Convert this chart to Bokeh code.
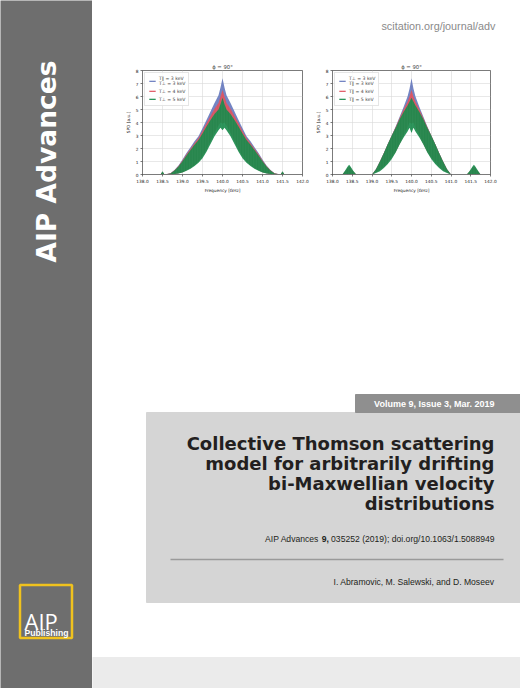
import math
from bokeh.plotting import figure
from bokeh.models import Range1d, FixedTicker, NumeralTickFormatter, Label, Legend, LegendItem, Spacer
from bokeh.layouts import row, column
from bokeh.core.properties import value
from bokeh.embed import file_html
from bokeh.resources import INLINE

# ---------------- data ----------------
X_TICKS = [138.0, 138.5, 139.0, 139.5, 140.0, 140.5, 141.0, 141.5, 142.0]
Y_TICKS = [0, 1, 2, 3, 4, 5, 6, 7, 8]

# left panel: T_par = 3 keV fixed, T_perp = 3, 4, 5 keV
FREQ_L = [138.0, 138.45, 138.5, 138.55,
          138.7, 138.8, 138.9, 139.0, 139.1, 139.2, 139.3, 139.4, 139.5, 139.6, 139.7, 139.8, 139.9,
          139.95, 140.0, 140.05,
          140.1, 140.2, 140.3, 140.4, 140.5, 140.6, 140.7, 140.8, 140.9, 141.0, 141.1, 141.2, 141.3,
          141.45, 141.5, 141.55, 142.0]
BLUE_UP_L = [0, 0, 0.2, 0,
             0.1, 0.35, 0.7, 1.15, 1.65, 2.1, 2.55, 2.95, 3.55, 4.2, 4.85, 5.5, 6.1,
             6.7, 7.4, 6.7,
             6.1, 5.5, 4.85, 4.2, 3.55, 2.95, 2.55, 2.1, 1.65, 1.15, 0.7, 0.35, 0.1,
             0, 0.2, 0, 0]
BLUE_LO_L = [0, 0, 0, 0,
             0, 0.05, 0.1, 0.2, 0.35, 0.55, 0.8, 1.1, 1.5, 2.1, 2.8, 3.5, 4.1,
             4.6, 4.5, 4.6,
             4.1, 3.5, 2.8, 2.1, 1.5, 1.1, 0.8, 0.55, 0.35, 0.2, 0.1, 0.05, 0,
             0, 0, 0, 0]
RED_UP_L = [0, 0, 0.22, 0,
            0.09, 0.33, 0.66, 1.08, 1.55, 1.98, 2.4, 2.8, 3.35, 3.95, 4.5, 5.05, 5.5,
            6.0, 6.5, 6.0,
            5.5, 5.05, 4.5, 3.95, 3.35, 2.8, 2.4, 1.98, 1.55, 1.08, 0.66, 0.33, 0.09,
            0, 0.22, 0, 0]
RED_LO_L = [0, 0, 0, 0,
            0, 0.04, 0.09, 0.18, 0.32, 0.5, 0.72, 1.0, 1.38, 1.9, 2.55, 3.2, 3.75,
            4.0, 3.9, 4.0,
            3.75, 3.2, 2.55, 1.9, 1.38, 1.0, 0.72, 0.5, 0.32, 0.18, 0.09, 0.04, 0,
            0, 0, 0, 0]
GREEN_UP_L = [0, 0, 0.25, 0,
              0.08, 0.3, 0.62, 1.02, 1.47, 1.88, 2.28, 2.65, 3.15, 3.7, 4.2, 4.65, 5.0,
              5.4, 5.9, 5.4,
              5.0, 4.65, 4.2, 3.7, 3.15, 2.65, 2.28, 1.88, 1.47, 1.02, 0.62, 0.3, 0.08,
              0, 0.25, 0, 0]
GREEN_LO_L = [0, 0, 0, 0,
              0, 0.03, 0.08, 0.15, 0.28, 0.45, 0.65, 0.9, 1.25, 1.75, 2.35, 2.95, 3.4,
              3.6, 3.4, 3.6,
              3.4, 2.95, 2.35, 1.75, 1.25, 0.9, 0.65, 0.45, 0.28, 0.15, 0.08, 0.03, 0,
              0, 0, 0, 0]

# right panel: T_perp = 3 keV fixed, T_par = 3, 4, 5 keV
FREQ_R = [138.0, 138.25, 138.32, 138.38, 138.42, 138.46, 138.52, 138.6,
          139.0, 139.1, 139.2, 139.3, 139.4, 139.5, 139.6, 139.7, 139.8, 139.9,
          139.95, 140.0, 140.05,
          140.1, 140.2, 140.3, 140.4, 140.5, 140.6, 140.7, 140.8, 140.9, 141.0,
          141.4, 141.48, 141.54, 141.58, 141.62, 141.68, 141.75, 142.0]
BLUE_UP_R = [0, 0, 0.2, 0.4, 0.5, 0.4, 0.2, 0,
             0, 0.4, 1.0, 1.65, 2.35, 3.0, 3.7, 4.45, 5.2, 6.0,
             6.6, 7.4, 6.6,
             6.0, 5.2, 4.45, 3.7, 3.0, 2.35, 1.65, 1.0, 0.4, 0,
             0, 0.2, 0.4, 0.5, 0.4, 0.2, 0, 0]
BLUE_LO_R = [0, 0, 0, 0, 0, 0, 0, 0,
             0, 0.2, 0.4, 0.7, 1.05, 1.45, 1.95, 2.6, 3.3, 4.0,
             4.6, 4.5, 4.6,
             4.0, 3.3, 2.6, 1.95, 1.45, 1.05, 0.7, 0.4, 0.2, 0,
             0, 0, 0, 0, 0, 0, 0, 0]
RED_UP_R = [0, 0, 0.25, 0.5, 0.62, 0.5, 0.25, 0,
            0, 0.4, 1.0, 1.65, 2.35, 3.0, 3.65, 4.35, 5.0, 5.6,
            6.0, 6.5, 6.0,
            5.6, 5.0, 4.35, 3.65, 3.0, 2.35, 1.65, 1.0, 0.4, 0,
            0, 0.25, 0.5, 0.62, 0.5, 0.25, 0, 0]
RED_LO_R = [0, 0, 0, 0, 0, 0, 0, 0,
            0, 0.18, 0.35, 0.6, 0.95, 1.3, 1.75, 2.35, 3.0, 3.6,
            4.0, 3.9, 4.0,
            3.6, 3.0, 2.35, 1.75, 1.3, 0.95, 0.6, 0.35, 0.18, 0,
            0, 0, 0, 0, 0, 0, 0, 0]
GREEN_UP_R = [0, 0, 0.3, 0.6, 0.75, 0.6, 0.3, 0,
              0, 0.4, 1.0, 1.65, 2.35, 3.0, 3.6, 4.25, 4.8, 5.3,
              5.6, 5.9, 5.6,
              5.3, 4.8, 4.25, 3.6, 3.0, 2.35, 1.65, 1.0, 0.4, 0,
              0, 0.3, 0.6, 0.75, 0.6, 0.3, 0, 0]
GREEN_LO_R = [0, 0, 0, 0, 0, 0, 0, 0,
              0, 0.12, 0.25, 0.5, 0.8, 1.2, 1.7, 2.3, 2.85, 3.3,
              3.6, 3.2, 3.6,
              3.3, 2.85, 2.3, 1.7, 1.2, 0.8, 0.5, 0.25, 0.12, 0,
              0, 0, 0, 0, 0, 0, 0, 0]

LEGEND_L = ["T\u2225 = 3 keV\nT\u22a5 = 3 keV", "T\u22a5 = 4 keV", "T\u22a5 = 5 keV"]
LEGEND_R = ["T\u22a5 = 3 keV\nT\u2225 = 3 keV", "T\u2225 = 4 keV", "T\u2225 = 5 keV"]
COLORS = ["#6577bd", "#e0515c", "#17894a"]

TITLE_LINES = ["Collective Thomson scattering", "model for arbitrarily drifting",
               "bi-Maxwellian velocity", "distributions"]
VOLUME = "Volume 9, Issue 3, Mar. 2019"
CITE_PARTS = ["AIP Advances", "9,", "035252 (2019); doi.org/10.1063/1.5088949"]
AUTHORS = "I. Abramovic, M. Salewski, and D. Moseev"
URL = "scitation.org/journal/adv"
JOURNAL = "AIP Advances"

SANS = value("Liberation Sans")
CF = "DejaVu Sans"
FS = "4.3px"


def blank(width, height, xr, yr, bg="white"):
    p = figure(width=width, height=height, x_range=Range1d(*xr), y_range=Range1d(*yr),
               x_axis_type=None, y_axis_type=None, toolbar_location=None,
               output_backend="svg", min_border=0,
               background_fill_color=bg, border_fill_color=bg, outline_line_color=None)
    p.grid.visible = False
    return p


def chart(width, left, right, freq, bands, labels):
    p = figure(width=width, height=137, x_range=Range1d(138, 142), y_range=Range1d(0, 8),
               toolbar_location=None, output_backend="svg",
               min_border_left=left, min_border_right=right, min_border_top=12, min_border_bottom=21,
               outline_line_color="#222222", outline_line_width=0.6)
    p.title.text = "\u03d5 = 90\u00b0"
    p.title.align = "center"
    p.title.text_font = CF
    p.title.text_font_size = "5.3px"
    p.title.text_font_style = "normal"
    p.title.standoff = 1
    p.title.offset = 0
    rends = []
    for (lo, up), col in zip(bands, COLORS):
        r = p.varea(x=freq, y1=lo, y2=up, fill_color=col, fill_alpha=0.92,
                    hatch_pattern="|", hatch_color="white", hatch_alpha=0.25,
                    hatch_scale=1.6, hatch_weight=0.5)
        rends.append(r)
    p.xaxis.ticker = FixedTicker(ticks=X_TICKS)
    p.yaxis.ticker = FixedTicker(ticks=Y_TICKS)
    p.xaxis.formatter = NumeralTickFormatter(format="0.0")
    p.xaxis.axis_label = "Frequency [GHz]"
    p.yaxis.axis_label = "SPD [a.u.]"
    for ax in (p.xaxis, p.yaxis):
        ax.axis_line_color = None
        ax.major_tick_line_color = "#222222"
        ax.major_tick_line_width = 0.6
        ax.major_tick_out = 2
        ax.major_tick_in = 0
        ax.minor_tick_line_color = None
        ax.major_label_text_font = CF
        ax.major_label_text_font_size = FS
        ax.major_label_text_color = "#222222"
        ax.major_label_standoff = 2
        ax.axis_label_text_font = CF
        ax.axis_label_text_font_size = FS
        ax.axis_label_text_font_style = "normal"
        ax.axis_label_text_color = "#222222"
        ax.axis_label_standoff = 2
    p.grid.grid_line_color = "#d9d9d9"
    p.grid.grid_line_width = 0.6
    p.add_layout(Label(x=138.0, y=8.0, text="1e\u221210", text_font=CF,
                       text_font_size=FS, text_baseline="bottom", y_offset=1, text_color="#222222"))
    leg = Legend(items=[LegendItem(label=lab, renderers=[r]) for lab, r in zip(labels, rends)],
                 location="top_left", label_text_font=CF, label_text_font_size="4.6px",
                 label_height=6, glyph_height=2, glyph_width=8, label_standoff=3, spacing=2,
                 padding=3, margin=2, border_line_color="#cccccc", border_line_width=0.5,
                 background_fill_alpha=0.85)
    p.add_layout(leg)
    return p


# ---------------- left band ----------------
band = blank(92, 688, (0, 92), (688, 0), bg="#6e6e6e")
band.text(x=[46], y=[262], text=[JOURNAL], angle=math.pi / 2, text_align="left",
          text_baseline="middle", text_font=value("DejaVu Sans"), text_font_style="bold",
          text_font_size="26.5px", text_color="white")
band.quad(left=[19.5], right=[71.5], top=[584.5], bottom=[637.5], fill_color=None,
          line_color="#f0c21e", line_width=2.5)
band.text(x=[24], y=[620.5], text=["AIP"], text_align="left", text_baseline="alphabetic",
          text_font=value("Open Sans"), text_font_size="22px", text_color="white")
band.text(x=[24], y=[632], text=["Publishing"], text_align="left", text_baseline="alphabetic",
          text_font=SANS, text_font_style="bold", text_font_size="8.6px", text_color="white")

# ---------------- header ----------------
top = blank(428, 58, (92, 520), (58, 0))
top.text(x=[495], y=[25], text=[URL], text_align="right", text_baseline="middle",
         text_font=SANS, text_font_size="10.8px", text_color="#8a8a8a")

# ---------------- charts ----------------
c1 = chart(207, 37, 10, FREQ_L,
           [(BLUE_LO_L, BLUE_UP_L), (RED_LO_L, RED_UP_L), (GREEN_LO_L, GREEN_UP_L)], LEGEND_L)
c2 = chart(193, 20, 15, FREQ_R,
           [(BLUE_LO_R, BLUE_UP_R), (RED_LO_R, RED_UP_R), (GREEN_LO_R, GREEN_UP_R)], LEGEND_R)
charts = row(Spacer(width=13, height=137), c1, c2, Spacer(width=15, height=137))

# ---------------- lower cover ----------------
low = blank(428, 493, (92, 520), (688, 195))
low.quad(left=[146], right=[520], top=[412], bottom=[602], color="#d5d5d5")
low.quad(left=[355], right=[520], top=[394], bottom=[412], color="#8f8f8f")
low.quad(left=[92], right=[520], top=[657], bottom=[688], color="#ebebeb")
low.text(x=[494], y=[403], text=[VOLUME], text_align="right", text_baseline="middle",
         text_font=SANS, text_font_style="bold", text_font_size="9px", text_color="white")
low.text(x=[494] * 4, y=[443, 463, 483, 503], text=TITLE_LINES, text_align="right",
         text_baseline="alphabetic", text_font=value("DejaVu Sans"), text_font_style="bold",
         text_font_size="18px", text_color="#231f20")
low.text(x=[318.5, 494], y=[538] * 2, text=[CITE_PARTS[0], CITE_PARTS[2]], text_align="right",
         text_baseline="middle", text_font=SANS, text_font_size="8.6px", text_color="#231f20")
low.text(x=[328.3], y=[538], text=[CITE_PARTS[1]], text_align="right", text_baseline="middle",
         text_font=SANS, text_font_size="8.6px", text_color="#231f20", text_font_style="bold")
low.segment(x0=[170], y0=[559], x1=[503], y1=[559], line_color="#9a9a9a", line_width=1.5)
low.text(x=[494], y=[581], text=[AUTHORS], text_align="right", text_baseline="middle",
         text_font=SANS, text_font_size="8.6px", text_color="#231f20")

right_col = column(top, charts, low, spacing=0)
page = row(band, right_col, spacing=0)

open("out.html", "w").write(file_html(page, INLINE))
